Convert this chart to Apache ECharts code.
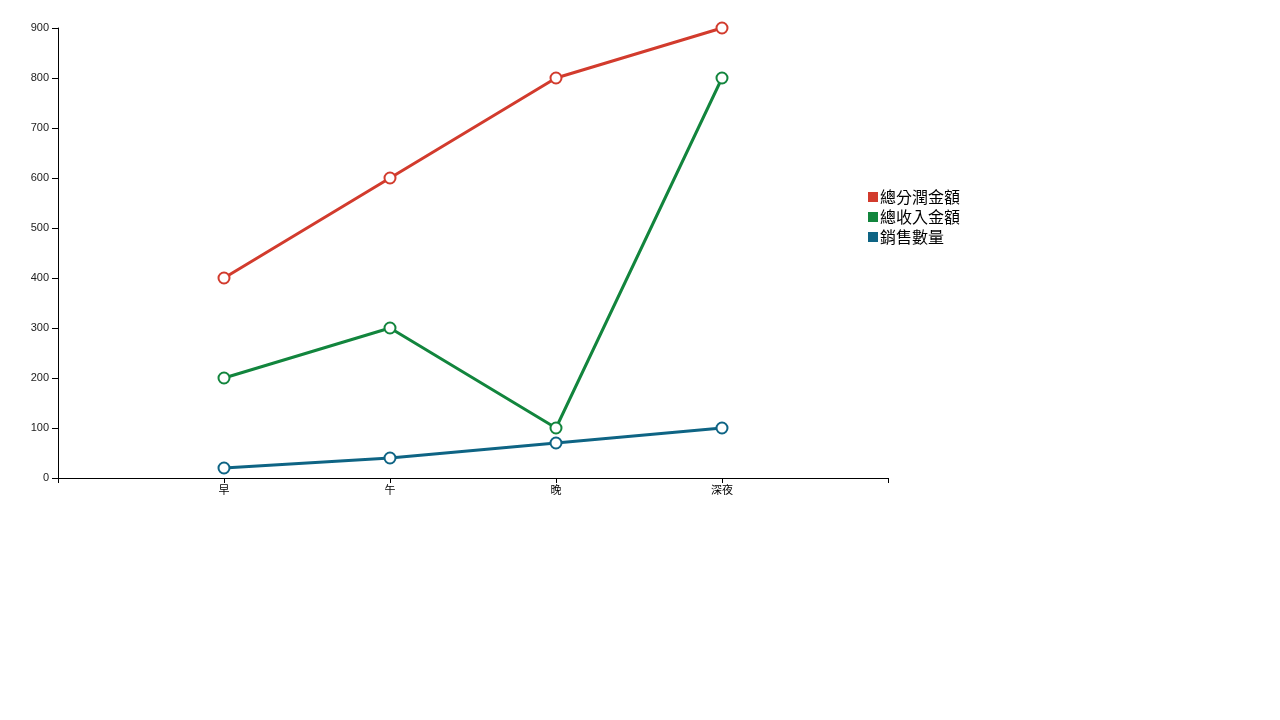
<!DOCTYPE html>
<html>
<head>
<meta charset="utf-8">
<script src="https://cdn.jsdelivr.net/npm/echarts@6/dist/echarts.min.js"></script>
<style>html,body{margin:0;padding:0;background:#fff;}#c{width:1280px;height:720px;}</style>
</head>
<body>
<div id="c"></div>
<script>
const categories = ['早', '午', '晚', '深夜'];
const seriesNames = ['總分潤金額', '總收入金額', '銷售數量'];
const profitValues = [400, 600, 800, 900];
const revenueValues = [200, 300, 100, 800];
const quantityValues = [20, 40, 70, 100];
const yTicks = [0, 100, 200, 300, 400, 500, 600, 700, 800, 900];

const colors = ['#d23b2d', '#12853d', '#0e6484'];
const allValues = [profitValues, revenueValues, quantityValues];

const chart = echarts.init(document.getElementById('c'));
const font = '"Liberation Sans", Arial, "Noto Sans CJK TC", sans-serif';
chart.setOption({
  animation: false,
  backgroundColor: '#fff',
  grid: { left: 58, right: 392, top: 28, bottom: 242, containLabel: false },
  legend: {
    orient: 'vertical',
    left: 868,
    top: 189,
    padding: 0,
    icon: 'rect',
    itemWidth: 10,
    itemHeight: 10,
    itemGap: 4,
    itemStyle: { borderWidth: 0 },
    lineStyle: { width: 0 },
    textStyle: { fontSize: 16, color: '#000', padding: [0, 0, 0, -3], fontFamily: '"Noto Sans CJK TC", sans-serif' },
    data: seriesNames
  },
  xAxis: {
    type: 'value',
    min: 0,
    max: categories.length + 1,
    interval: 1,
    splitLine: { show: false },
    axisLine: { lineStyle: { color: '#000', width: 1 } },
    axisTick: { show: true, length: 5, lineStyle: { color: '#000' } },
    axisLabel: {
      fontSize: 11, color: '#000', margin: 6,
      fontFamily: '"Noto Sans CJK TC", sans-serif',
      formatter: function (v) { return categories[v - 1] || ''; }
    }
  },
  yAxis: {
    type: 'value',
    min: yTicks[0],
    max: yTicks[yTicks.length - 1],
    interval: 100,
    splitLine: { show: false },
    axisLine: { show: true, lineStyle: { color: '#000', width: 1 } },
    axisTick: { show: true, length: 6, lineStyle: { color: '#000' } },
    axisLabel: { fontSize: 11, color: '#222', margin: 9, fontFamily: font }
  },
  series: seriesNames.map(function (name, i) {
    return {
      name: name,
      type: 'line',
      data: allValues[i].map(function (v, j) { return [j + 1, v]; }),
      symbol: 'emptyCircle',
      symbolSize: 11,
      z: 3 - i,
      color: colors[i],
      lineStyle: { color: colors[i], width: 3 },
      itemStyle: { color: colors[i], borderColor: colors[i], borderWidth: 3 }
    };
  })
});
</script>
</body>
</html>
